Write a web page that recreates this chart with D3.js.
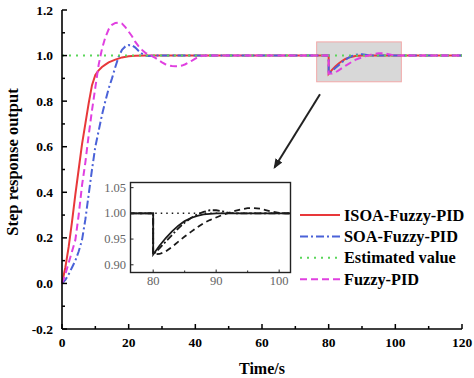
<!DOCTYPE html>
<html>
<head>
<meta charset="utf-8">
<script src="https://cdn.jsdelivr.net/npm/d3@7"></script>
<style>
  body { margin: 0; background: #fff; }
  svg text { font-family: "Liberation Serif", "Times New Roman", serif; }
</style>
</head>
<body>
<div id="chart"></div>
<script>
// ISOA-Fuzzy-PID (solid red)
const isoaTime  = [0, 1, 2, 3, 4, 5, 6, 7, 8, 9, 10, 11, 12, 13, 14, 16, 18, 20, 22, 25, 80, 80, 81, 82, 83, 84, 85, 86, 87, 88, 90, 92, 120];
const isoaValue = [0, 0.07, 0.16, 0.27, 0.39, 0.5, 0.61, 0.7, 0.79, 0.87, 0.915, 0.935, 0.95, 0.96, 0.97, 0.982, 0.992, 0.997, 0.999, 1, 1, 0.92, 0.937, 0.952, 0.965, 0.976, 0.985, 0.991, 0.995, 0.998, 1, 1, 1];

// SOA-Fuzzy-PID (dash-dot blue)
const soaTime  = [0, 1, 2, 3, 4, 5, 6, 7, 8, 9, 10, 11, 12, 13, 14, 15, 16, 17, 18, 19, 20, 21, 22, 23, 24, 25, 26, 28, 80, 80, 81, 82, 83, 84, 85, 86, 87, 88, 89, 90, 91, 92, 93, 120];
const soaValue = [0, 0.015, 0.04, 0.07, 0.1, 0.14, 0.19, 0.28, 0.39, 0.5, 0.6, 0.67, 0.74, 0.8, 0.855, 0.9, 0.95, 0.995, 1.025, 1.04, 1.046, 1.045, 1.035, 1.02, 1.008, 1.001, 0.998, 1, 1, 0.92, 0.932, 0.945, 0.958, 0.971, 0.982, 0.991, 0.998, 1.003, 1.006, 1.006, 1.004, 1.001, 1, 1];

// Estimated value (dotted green)
const estTime  = [0, 120];
const estValue = [1, 1];

// Fuzzy-PID (dashed magenta)
const fpidTime  = [0, 1, 2, 3, 4, 5, 6, 7, 8, 9, 10, 11, 12, 13, 14, 15, 16, 17, 18, 19, 20, 21, 22, 23, 24, 25, 26, 27, 28, 29, 30, 31, 32, 33, 34, 35, 36, 37, 38, 39, 40, 41, 42, 43, 80, 80, 81, 82, 83, 84, 85, 86, 87, 88, 89, 90, 91, 92, 93, 94, 95, 96, 97, 98, 99, 100, 101, 120];
const fpidValue = [0, 0.04, 0.09, 0.14, 0.19, 0.3, 0.43, 0.53, 0.65, 0.76, 0.86, 0.96, 1.03, 1.08, 1.115, 1.135, 1.143, 1.145, 1.14, 1.125, 1.105, 1.085, 1.06, 1.04, 1.025, 1.012, 1.005, 0.998, 0.99, 0.98, 0.97, 0.962, 0.957, 0.954, 0.953, 0.953, 0.956, 0.962, 0.97, 0.978, 0.987, 0.994, 0.999, 1, 1, 0.92, 0.921, 0.926, 0.935, 0.945, 0.955, 0.964, 0.973, 0.981, 0.987, 0.992, 0.997, 1.001, 1.005, 1.008, 1.01, 1.01, 1.009, 1.006, 1.003, 1.001, 1, 1];

const seriesNames = ["ISOA-Fuzzy-PID", "SOA-Fuzzy-PID", "Estimated value", "Fuzzy-PID"];
const xTicks = [0, 20, 40, 60, 80, 100, 120];
const yTicks = [-0.2, 0, 0.2, 0.4, 0.6, 0.8, 1.0, 1.2];
const insetXTicks = [80, 90, 100];
const insetYTicks = [0.90, 0.95, 1.00, 1.05];
const zoomX = [76.4, 101.8];
const zoomY = [0.885, 1.06];
const arrowFrom = [77.4, 0.83];
const arrowTo = [63.8, 0.51];

const W = 474, H = 378;
const svg = d3.select("#chart").append("svg").attr("width", W).attr("height", H);

const x = d3.scaleLinear().domain([0, 120]).range([62, 462]);
const y = d3.scaleLinear().domain([-0.2, 1.2]).range([329, 10]);

const zip = (t, v) => t.map((d, i) => [d, v[i]]);
const series = [
    { name: seriesNames[0], pts: zip(isoaTime, isoaValue), color: "#e8383a", dash: null, inkDash: null },
    { name: seriesNames[1], pts: zip(soaTime, soaValue), color: "#4a62d8", dash: "8,3,2,3", inkDash: "7,2.5,2,2.5" },
    { name: seriesNames[2], pts: zip(estTime, estValue), color: "#5ad65a", dash: "2,5", inkDash: "1.5,4" },
    { name: seriesNames[3], pts: zip(fpidTime, fpidValue), color: "#e040e0", dash: "7,4", inkDash: "6,4" }
];

// zoom window marker
svg.append("rect")
    .attr("x", x(zoomX[0]))
    .attr("y", y(zoomY[1]))
    .attr("width", x(zoomX[1]) - x(zoomX[0]))
    .attr("height", y(zoomY[0]) - y(zoomY[1]))
    .attr("fill", "#d8d8d8")
    .attr("stroke", "#f2a8a8")
    .attr("stroke-width", 1);

// main lines
const line = d3.line().x(d => x(d[0])).y(d => y(d[1]));
series.forEach(s => {
    svg.append("path")
        .attr("d", line(s.pts))
        .attr("fill", "none")
        .attr("stroke", s.color)
        .attr("stroke-width", 2)
        .attr("stroke-dasharray", s.dash);
});

// axes (ticks inward, minor ticks between)
const axisG = svg.append("g").attr("stroke", "#000");
axisG.append("line").attr("x1", x(0)).attr("x2", x(120)).attr("y1", y(-0.2)).attr("y2", y(-0.2)).attr("stroke-width", 1.6);
axisG.append("line").attr("x1", x(0)).attr("x2", x(0)).attr("y1", y(-0.2)).attr("y2", y(1.2)).attr("stroke-width", 1.6);

d3.range(0, 121, 10).forEach(t => {
    const len = t % 20 === 0 ? 5 : 3;
    axisG.append("line").attr("x1", x(t)).attr("x2", x(t))
        .attr("y1", y(-0.2)).attr("y2", y(-0.2) - len).attr("stroke-width", 1.5);
});
d3.range(-2, 13, 1).forEach(k => {
    const v = k / 10;
    const len = k % 2 === 0 ? 5 : 3;
    axisG.append("line").attr("x1", x(0)).attr("x2", x(0) + len)
        .attr("y1", y(v)).attr("y2", y(v)).attr("stroke-width", 1.5);
});

svg.selectAll(".xlab").data(xTicks).enter().append("text")
    .attr("x", d => x(d)).attr("y", 347)
    .attr("text-anchor", "middle")
    .style("font-size", "13.5px").style("font-weight", "bold")
    .text(d => d);

svg.selectAll(".ylab").data(yTicks).enter().append("text")
    .attr("x", 53).attr("y", d => y(d) + 4.5)
    .attr("text-anchor", "end")
    .style("font-size", "13.5px").style("font-weight", "bold")
    .text(d => d.toFixed(1));

svg.append("text")
    .attr("x", (x(0) + x(120)) / 2).attr("y", 374)
    .attr("text-anchor", "middle")
    .style("font-size", "16px").style("font-weight", "bold")
    .text("Time/s");

svg.append("text")
    .attr("transform", "translate(18, 162) rotate(-90)")
    .attr("text-anchor", "middle")
    .style("font-size", "16.5px").style("font-weight", "bold")
    .text("Step response output");

// arrow
svg.append("defs").append("marker")
    .attr("id", "arrowhead")
    .attr("viewBox", "0 0 10 10")
    .attr("refX", 8).attr("refY", 5)
    .attr("markerWidth", 5).attr("markerHeight", 5)
    .attr("orient", "auto")
    .append("path").attr("d", "M0,1 L10,5 L0,9 Z").attr("fill", "#222");

svg.append("line")
    .attr("x1", x(arrowFrom[0])).attr("y1", y(arrowFrom[1]))
    .attr("x2", x(arrowTo[0])).attr("y2", y(arrowTo[1]))
    .attr("stroke", "#222").attr("stroke-width", 2)
    .attr("marker-end", "url(#arrowhead)");

// inset
const ix = d3.scaleLinear().domain(zoomX).range([130.5, 290.5]);
const iy = d3.scaleLinear().domain(zoomY).range([272.5, 182.5]);

const inset = svg.append("g");
inset.append("rect")
    .attr("x", ix.range()[0]).attr("y", iy.range()[1])
    .attr("width", ix.range()[1] - ix.range()[0])
    .attr("height", iy.range()[0] - iy.range()[1])
    .attr("fill", "#fff");

inset.append("clipPath").attr("id", "insetClip")
    .append("rect")
    .attr("x", ix.range()[0]).attr("y", iy.range()[1])
    .attr("width", ix.range()[1] - ix.range()[0])
    .attr("height", iy.range()[0] - iy.range()[1]);

const iline = d3.line().x(d => ix(d[0])).y(d => iy(d[1]));
const insetOrder = [2, 3, 1, 0];
insetOrder.forEach(k => {
    const s = series[k];
    inset.append("path")
        .attr("clip-path", "url(#insetClip)")
        .attr("d", iline(s.pts))
        .attr("fill", "none")
        .attr("stroke", "#1a1a1a")
        .attr("stroke-width", k === 2 ? 1.5 : 1.8)
        .attr("stroke-dasharray", s.inkDash);
});

inset.append("rect")
    .attr("x", ix.range()[0]).attr("y", iy.range()[1])
    .attr("width", ix.range()[1] - ix.range()[0])
    .attr("height", iy.range()[0] - iy.range()[1])
    .attr("fill", "none")
    .attr("stroke", "#222").attr("stroke-width", 1.4);

[80, 85, 90, 95, 100].forEach(t => {
    inset.append("line").attr("x1", ix(t)).attr("x2", ix(t))
        .attr("y1", iy.range()[0]).attr("y2", iy.range()[0] - (t % 10 === 0 ? 3 : 2))
        .attr("stroke", "#222").attr("stroke-width", 1);
});
insetYTicks.forEach(v => {
    inset.append("line").attr("x1", ix.range()[0]).attr("x2", ix.range()[0] + 3)
        .attr("y1", iy(v)).attr("y2", iy(v))
        .attr("stroke", "#222").attr("stroke-width", 1);
});

inset.selectAll(".ixl").data(insetXTicks).enter().append("text")
    .attr("x", d => ix(d)).attr("y", 285)
    .attr("text-anchor", "middle")
    .attr("fill", "#666")
    .style("font-size", "12.5px")
    .text(d => d);

inset.selectAll(".iyl").data(insetYTicks).enter().append("text")
    .attr("x", 126).attr("y", d => iy(d) + 4)
    .attr("text-anchor", "end")
    .attr("fill", "#666")
    .style("font-size", "12.5px")
    .text(d => d.toFixed(2));

// legend
const legend = svg.append("g").attr("transform", "translate(300, 215)");
series.forEach((s, i) => {
    const g = legend.append("g").attr("transform", `translate(0, ${i * 21.4})`);
    g.append("line")
        .attr("x1", 0).attr("x2", 40).attr("y1", 0).attr("y2", 0)
        .attr("stroke", s.color).attr("stroke-width", 2)
        .attr("stroke-dasharray", s.dash);
    g.append("text")
        .attr("x", 44).attr("y", 5.5)
        .style("font-size", "16.3px").style("font-weight", "bold")
        .text(s.name);
});
</script>
</body>
</html>
